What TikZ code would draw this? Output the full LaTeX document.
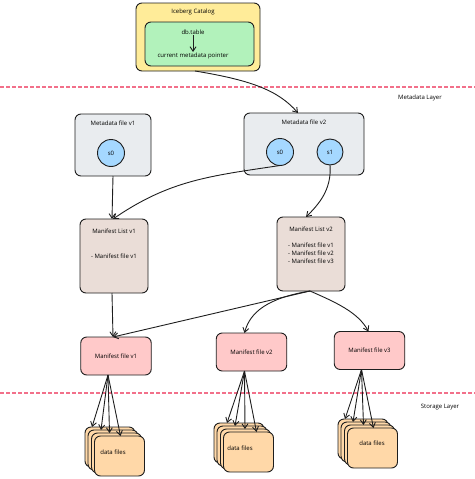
\documentclass[tikz,border=0pt]{standalone}
\usepackage{fontspec}
\setmainfont{Open Sans}
\usetikzlibrary{arrows.meta,positioning}
\definecolor{inkc}{HTML}{1E1E1E}
\definecolor{catfill}{HTML}{FFEC99}
\definecolor{ptrfill}{HTML}{B2F2BB}
\definecolor{metafill}{HTML}{E9ECEF}
\definecolor{snapfill}{HTML}{A5D8FF}
\definecolor{listfill}{HTML}{EADDD7}
\definecolor{filefill}{HTML}{FFC9C9}
\definecolor{datafill}{HTML}{FFD8A8}
\definecolor{layerred}{HTML}{F2708A}

\begin{document}
\begin{tikzpicture}[
  x=1pt,y=-1pt,
  txt/.style={inner sep=0pt,outer sep=1pt,align=center,font=\fontsize{6}{8}\selectfont,text=black},
  box/.style={draw=inkc,line width=0.9pt,rounded corners=6pt,inner sep=0pt,outer sep=0pt},
  catbox/.style={box,fill=catfill,minimum width=124pt,minimum height=68pt},
  ptrbox/.style={box,fill=ptrfill,minimum width=109pt,minimum height=44pt},
  metabox/.style={box,fill=metafill,minimum height=62pt},
  snap/.style={circle,draw=inkc,line width=0.9pt,fill=snapfill,minimum size=27pt,inner sep=0pt,outer sep=0pt,font=\fontsize{6}{8}\selectfont},
  listbox/.style={box,fill=listfill,minimum width=68pt,minimum height=74pt},
  filebox/.style={box,fill=filefill,minimum width=70.5pt,minimum height=38pt},
  databox/.style={box,fill=datafill,minimum width=50pt,minimum height=40pt},
  ar/.style={-{Straight Barb[length=4.5pt,width=6pt]},line width=0.9pt,draw=inkc}
]
\useasboundingbox (0,0) rectangle (474,479);
% layer lines
\foreach \y in {86,392} \foreach \x in {0,6,...,474} \fill[layerred] (\x,\y) rectangle ++(4,1.6);
\node[txt] (metalayer) at (420,98) {Metadata Layer};
\node[txt] (storelayer) at (440,407) {Storage Layer};
% catalog
\node[catbox] (cat) at (198,37) {};
\node[ptrbox] (ptr) at (199.5,44) {};
\node[txt] (cattitle) at (193,12) {Iceberg Catalog};
\node[txt] (dbt) at (193,32) {db.table};
\node[txt] (cur) at (193,56) {current metadata pointer};
\draw[ar] (dbt)--(cur);
% metadata files
\node[metabox,minimum width=76pt] (meta1) at (113,145) {};
\node[metabox,minimum width=120pt] (meta2) at (304,144) {};
\node[txt,below=6pt of meta1.north] (meta1t) {Metadata file v1};
\node[txt,below=6pt of meta2.north] (meta2t) {Metadata file v2};
\node[snap] (m1s0) at (111,153) {s0};
\node[snap] (m2s0) at (280,152) {s0};
\node[snap,minimum size=26pt] (m2s1) at (330,152) {s1};
% manifest lists
\node[listbox,below=43pt of meta1,xshift=1pt] (list1) {};
\node[listbox] (list2) at (311,254) {};
\node[txt,below=9pt of list1.north] (list1t) {Manifest List v1};
\node[txt,below=9pt of list2.north] (list2t) {Manifest List v2};
\node[txt] (list1a) at (114,256) {- Manifest file v1};
\node[txt] (list2a) at (311,253) {- Manifest file v1\\- Manifest file v2\\- Manifest file v3};
% manifest files
\node[filebox,font=\fontsize{6}{8}\selectfont] (file1) at (116,356) {Manifest file v1};
\node[filebox,font=\fontsize{6}{8}\selectfont] (file2) at (251.5,352) {Manifest file v2};
\node[filebox,font=\fontsize{6}{8}\selectfont] (file3) at (369.5,350.5) {Manifest file v3};
% data file stacks
\foreach \s/\x/\y in {1/85/427,2/214/423,3/338/419}{
  \node[databox,anchor=north west] (d\s a) at (\x,\y) {};
  \node[databox,anchor=north west] (d\s b) at (\x+3,\y+3) {};
  \node[databox,anchor=north west] (d\s c) at (\x+6.5,\y+6) {};
  \node[databox,anchor=north west] (d\s d) at (\x+9.5,\y+9) {};
}
\node[txt] (d1t) at (113,452) {data files};
\node[txt] (d2t) at (240,448) {data files};
\node[txt] (d3t) at (372,443) {data files};
% connectors
\draw[ar] ([xshift=-3pt]cat.south) .. controls (250,80) and (278,90) .. ([xshift=-6pt]meta2.north);
\draw[ar] (meta1.south)--([xshift=-2pt]list1.north);
\draw[ar] (m2s0.south) .. controls (210,176) and (170,180) .. ([xshift=-1pt]list1.north);
\draw[ar] (m2s1.south) .. controls (332,190) and (318,205) .. ([xshift=-5pt]list2.north);
\draw[ar] ([xshift=-2pt]list1.south)--([xshift=-3pt]file1.north);
\draw[ar] ([xshift=-1pt]list2.south)--([xshift=-3pt]file1.north);
\draw[ar] ([xshift=-1pt]list2.south) .. controls (268,298) and (250,312) .. ([xshift=-7pt]file2.north);
\draw[ar] ([xshift=-1pt]list2.south) .. controls (335,302) and (358,312) .. ([xshift=-1pt]file3.north);
\foreach \b/\o in {a/7,b/13,c/18,d/26} \draw[ar] ([xshift=-8pt]file1.south)--([xshift=\o pt]d1\b.north west);
\foreach \b/\o in {a/13,b/18,c/24.5,d/33} \draw[ar] ([xshift=-7pt]file2.south)--([xshift=\o pt]d2\b.north west);
\foreach \b/\o in {a/7,b/12,c/19,d/26} \draw[ar] ([xshift=-8pt]file3.south)--([xshift=\o pt]d3\b.north west);
\end{tikzpicture}
\end{document}
